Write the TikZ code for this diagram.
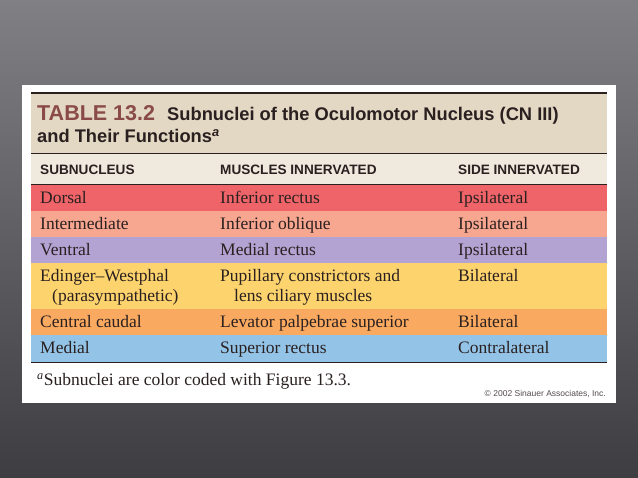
\documentclass[tikz,border=0pt]{standalone}
\usepackage{fontspec}
\setmainfont{Liberation Serif}
\newfontfamily\hsans{Liberation Sans}
\definecolor{bgA}{HTML}{7A797E}
\definecolor{bgB}{HTML}{3E3D42}
\definecolor{beige}{HTML}{E3D8C4}
\definecolor{hdr}{HTML}{EFE9DE}
\definecolor{cRed}{HTML}{EE6468}
\definecolor{cSal}{HTML}{F7A690}
\definecolor{cPur}{HTML}{B2A3D3}
\definecolor{cYel}{HTML}{FDD36D}
\definecolor{cOra}{HTML}{FAAA60}
\definecolor{cBlu}{HTML}{93C4E8}
\definecolor{ttl}{HTML}{8A4A48}
\definecolor{ink}{HTML}{2A2020}
\tikzset{
 cell/.style={anchor=base west,inner sep=0pt,font=\fontsize{17.5}{18}\selectfont,text=ink},
 hcell/.style={anchor=base west,inner sep=0pt,font=\hsans\bfseries\fontsize{13.6}{14}\selectfont,text=ink},
}
\begin{document}
\begin{tikzpicture}[x=1pt,y=-1pt]
\useasboundingbox (0,0) rectangle (638,478);
\shade[left color=bgA,right color=bgB,shading angle=0] (0,0) rectangle (638,478);
\shade[top color=bgA!90,bottom color=bgB,opacity=0.5] (0,0) rectangle (638,478);
\fill[white] (22,85) rectangle (616,403);
\fill[beige] (31,93) rectangle (607,154);
\fill[hdr] (31,154) rectangle (607,184);
\fill[cRed] (31,185) rectangle (607,211);
\fill[cSal] (31,211) rectangle (607,237);
\fill[cPur] (31,237) rectangle (607,263);
\fill[cYel] (31,263) rectangle (607,309);
\fill[cOra] (31,309) rectangle (607,335);
\fill[cBlu] (31,335) rectangle (607,362);
\draw[line width=1.5pt,ink] (31,93) -- (607,93);
\draw[line width=1pt,ink] (31,154) -- (607,154);
\draw[line width=0.8pt,ink] (31,184.5) -- (607,184.5);
\draw[line width=1.2pt,ink] (31,362.5) -- (607,362.5);
\node[anchor=base west,inner sep=0pt,font=\hsans\bfseries\fontsize{21.5}{22}\selectfont,text=ttl] (t1) at (37,121) {TABLE 13.2};
\node[anchor=base west,inner sep=0pt,font=\hsans\bfseries\fontsize{18.3}{18}\selectfont,text=ink] (t2) at (167,121) {Subnuclei of the Oculomotor Nucleus (CN III)};
\node[anchor=base west,inner sep=0pt,font=\hsans\bfseries\fontsize{18.3}{18}\selectfont,text=ink] (t3) at (37,143) {and Their Functions\textsuperscript{\itshape a}};
\node[hcell] (h1) at (40,175) {SUBNUCLEUS};
\node[hcell] (h2) at (220,175) {MUSCLES INNERVATED};
\node[hcell] (h3) at (458,175) {SIDE INNERVATED};
\node[cell] (a1) at (40,204) {Dorsal};
\node[cell] (b1) at (220,204) {Inferior rectus};
\node[cell] (c1) at (458,204) {Ipsilateral};
\node[cell] (a2) at (40,230) {Intermediate};
\node[cell] (b2) at (220,230) {Inferior oblique};
\node[cell] (c2) at (458,230) {Ipsilateral};
\node[cell] (a3) at (40,256) {Ventral};
\node[cell] (b3) at (220,256) {Medial rectus};
\node[cell] (c3) at (458,256) {Ipsilateral};
\node[cell] (a4) at (40,282) {Edinger–Westphal};
\node[cell] (a4b) at (52,302) {(parasympathetic)};
\node[cell] (b4) at (220,282) {Pupillary constrictors and};
\node[cell] (b4b) at (234,302) {lens ciliary muscles};
\node[cell] (c4) at (458,282) {Bilateral};
\node[cell] (a5) at (40,328) {Central caudal};
\node[cell] (b5) at (220,328) {Levator palpebrae superior};
\node[cell] (c5) at (458,328) {Bilateral};
\node[cell] (a6) at (40,354) {Medial};
\node[cell] (b6) at (220,354) {Superior rectus};
\node[cell] (c6) at (458,354) {Contralateral};
\node[cell] (fn) at (37,386) {\textsuperscript{\itshape a}Subnuclei are color coded with Figure 13.3.};
\node[anchor=base east,inner sep=0pt,font=\hsans\fontsize{8.5}{9}\selectfont,text=ink!80] (cp) at (606,397) {© 2002 Sinauer Associates, Inc.};
\end{tikzpicture}
\end{document}
